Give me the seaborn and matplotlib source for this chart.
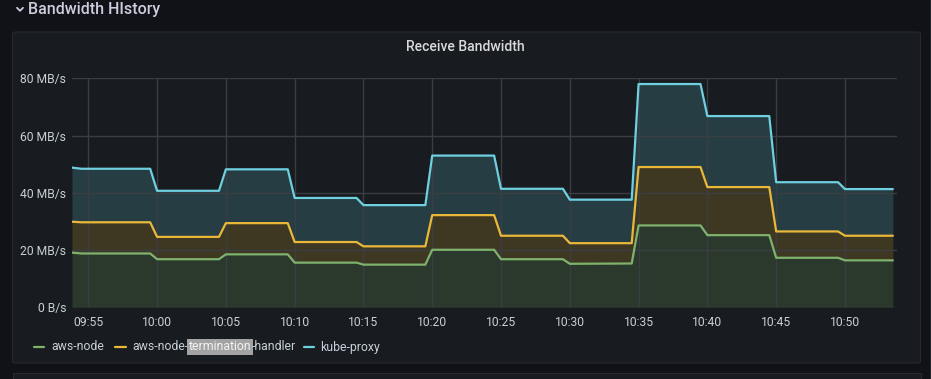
import matplotlib
matplotlib.use("Agg")
import matplotlib.pyplot as plt
import matplotlib.dates as mdates
from matplotlib.patches import FancyBboxPatch, Rectangle
from matplotlib.lines import Line2D
import seaborn as sns
import pandas as pd

# ---------------- data ----------------
times = ["09:53:49", "09:54:30", "09:59:30", "10:00:00", "10:04:30", "10:05:00",
         "10:09:30", "10:10:00", "10:14:30", "10:15:00", "10:19:30", "10:20:00",
         "10:24:30", "10:25:00", "10:29:30", "10:30:00", "10:34:30", "10:35:00",
         "10:39:30", "10:40:00", "10:44:30", "10:45:00", "10:49:30", "10:50:00",
         "10:53:29"]
aws_node = [19.1, 18.8, 18.8, 16.8, 16.8, 18.5, 18.5, 15.6, 15.6, 14.9, 14.9, 20.1,
            20.1, 16.8, 16.8, 15.2, 15.3, 28.6, 28.6, 25.2, 25.2, 17.3, 17.3, 16.4, 16.4]
aws_node_termination_handler = [29.9, 29.7, 29.7, 24.6, 24.6, 29.4, 29.4, 22.8, 22.8,
                                 21.3, 21.3, 32.2, 32.2, 25.0, 25.0, 22.4, 22.4, 49.0,
                                 49.0, 42.0, 42.0, 26.5, 26.5, 25.0, 25.0]
kube_proxy = [48.8, 48.4, 48.4, 40.7, 40.7, 48.2, 48.2, 38.2, 38.2, 35.7, 35.7, 53.0,
              53.0, 41.4, 41.4, 37.6, 37.6, 78.0, 78.0, 66.8, 66.8, 43.7, 43.7, 41.3, 41.3]
series_names = ["aws-node", "aws-node-termination-handler", "kube-proxy"]
y_ticks = [0, 20, 40, 60, 80]
y_tick_labels = ["0 B/s", "20 MB/s", "40 MB/s", "60 MB/s", "80 MB/s"]
x_start, x_end = "09:53:49", "10:53:47"
header = "Bandwidth HIstory"
title = "Receive Bandwidth"

line_colors = ["#7eb26d", "#eab839", "#6ed0e0"]
fill_colors = ["#2b382c", "#3e3722", "#263d44"]

DAY = "2023-01-01 "
t = pd.to_datetime([DAY + s for s in times])
values = [aws_node, aws_node_termination_handler, kube_proxy]
df = pd.concat([pd.DataFrame({"time": t, "value": v, "series": n})
                for n, v in zip(series_names, values)], ignore_index=True)

# ---------------- figure ----------------
W, H = 931, 379
sns.set_theme(style="dark")
plt.rcParams["font.family"] = ["Roboto", "DejaVu Sans"]
fig = plt.figure(figsize=(W / 100, H / 100), dpi=100, facecolor="#111217")

def fx(x):
    return x / W

def fy(y):
    return 1 - y / H

# panels
fig.add_artist(FancyBboxPatch((fx(12.5), fy(363)), fx(908), 331 / H,
                              boxstyle="round,pad=0,rounding_size=0.004",
                              transform=fig.transFigure, fc="#181b1f",
                              ec="#25282c", lw=0.8, zorder=0))
fig.add_artist(Rectangle((fx(12.5), fy(381)), fx(908), 8 / H,
                         transform=fig.transFigure, fc="#181b1f",
                         ec="#25282c", lw=0.8, zorder=0))
fig.add_artist(Rectangle((fx(929.5), 0), fx(5), 1, transform=fig.transFigure,
                         fc="#181b1f", ec="#25282c", lw=0.8, zorder=0))

# header with chevron
fig.add_artist(Line2D([fx(17), fx(20), fx(23)], [fy(7.8), fy(10.8), fy(7.8)],
                      transform=fig.transFigure, color="#ccccdc", lw=1.3))
fig.text(fx(28), fy(9.5), header, color="#ccccdc", fontsize=11.5,
         ha="left", va="center", fontweight=500)
fig.text(fx(465), fy(47), title, color="#d8d9da", fontsize=10.1,
         ha="center", va="center", fontweight=500)

# axes
left, right, top, bottom = 72, 897, 78.3, 307.3
ax = fig.add_axes([fx(left), fy(bottom), fx(right - left), (bottom - top) / H])
ax.set_facecolor("#181b1f")

x = t
ax.fill_between(x, 0, aws_node, color=fill_colors[0], lw=0, zorder=1)
ax.fill_between(x, aws_node, aws_node_termination_handler, color=fill_colors[1], lw=0, zorder=1)
ax.fill_between(x, aws_node_termination_handler, kube_proxy, color=fill_colors[2], lw=0, zorder=1)

sns.lineplot(data=df, x="time", y="value", hue="series", hue_order=series_names,
             palette=line_colors, lw=1.6, legend=False, ax=ax, zorder=3)

ax.set_xlim(pd.Timestamp(DAY + x_start), pd.Timestamp(DAY + x_end))
ax.set_ylim(0, 80)
ax.set_yticks(y_ticks)
ax.set_yticklabels(y_tick_labels)
ax.xaxis.set_major_locator(mdates.MinuteLocator(byminute=range(0, 60, 5)))
ax.xaxis.set_major_formatter(mdates.DateFormatter("%H:%M"))
ax.set_xlabel("")
ax.set_ylabel("")
for s in ax.spines.values():
    s.set_visible(False)
ax.grid(True, color="#3a3d42", lw=1.0, zorder=2)
ax.set_axisbelow(False)
for gl in ax.get_xgridlines() + ax.get_ygridlines():
    gl.set_zorder(2)
ax.tick_params(axis="both", length=0, colors="#c7d0d9", labelsize=8.7)
ax.tick_params(axis="y", pad=4.3)
ax.tick_params(axis="x", pad=6.0)

# legend (manual, Grafana style)
leg_y = fy(347)
leg_fs = 8.8
text_color = "#c7d0d9"
fig.canvas.draw()
renderer = fig.canvas.get_renderer()

def width_px(s):
    tt = fig.text(0, 0, s, fontsize=leg_fs)
    w = tt.get_window_extent(renderer).width
    tt.remove()
    return w

marker_x = [33.5, 115, 303.5]
text_x = [51, 132.5, 320.5]
for i, name in enumerate(series_names):
    fig.add_artist(Line2D([fx(marker_x[i]), fx(marker_x[i] + 10.5)], [leg_y, leg_y],
                          transform=fig.transFigure, color=line_colors[i], lw=1.6))
    if name == "aws-node-termination-handler":
        pre, mid, post = "aws-node-", "termination", "-handler"
        x0 = text_x[i]
        fig.text(fx(x0), leg_y, pre, color=text_color, fontsize=leg_fs, ha="left", va="center")
        x1 = x0 + width_px(pre)
        fig.text(fx(x1), leg_y, mid, color="#f4f4f4", fontsize=leg_fs, ha="left", va="center",
                 bbox=dict(boxstyle="square,pad=0.12", fc="#a3a3a3", ec="none"))
        x2 = x1 + width_px(mid)
        fig.text(fx(x2), leg_y, post, color=text_color, fontsize=leg_fs, ha="left", va="center")
    else:
        fig.text(fx(text_x[i]), leg_y, name, color=text_color, fontsize=leg_fs,
                 ha="left", va="center")

fig.savefig("out.png", dpi=100, facecolor=fig.get_facecolor())
